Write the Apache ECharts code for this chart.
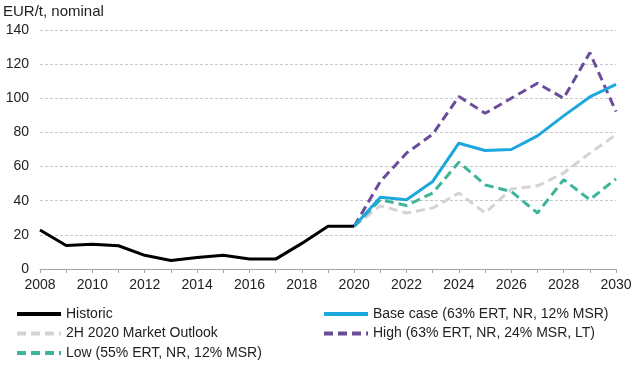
<!DOCTYPE html>
<html><head><meta charset="utf-8">
<script src="https://cdn.jsdelivr.net/npm/echarts@6/dist/echarts.min.js"></script>
<style>html,body{margin:0;padding:0;background:#fff}#c{width:640px;height:369px}</style>
</head><body><div id="c"></div>
<script>
const years = ['2008','2009','2010','2011','2012','2013','2014','2015','2016','2017','2018','2019','2020','2021','2022','2023','2024','2025','2026','2027','2028','2029','2030'];
const historic = [22.8,13.8,14.5,13.6,8,5,6.8,8,5.8,5.8,15,25,25,null,null,null,null,null,null,null,null,null,null];
const baseCase = [null,null,null,null,null,null,null,null,null,null,null,null,25,42,40.6,51.3,73.7,69.4,70,78,89.7,100.8,108.2];
const outlook2H = [null,null,null,null,null,null,null,null,null,null,null,null,25,37,32.8,35.7,44.5,32.8,46.8,48.7,56.2,67.9,78.6];
const high = [null,null,null,null,null,null,null,null,null,null,null,null,25,51.3,67.9,79,101,91.2,100,108.8,100,126.7,92.2];
const low = [null,null,null,null,null,null,null,null,null,null,null,null,25,40.6,37.2,44.5,62.6,49.3,45.4,32.8,52.3,40.6,52.8];
const names = ['Historic','Base case (63% ERT, NR, 12% MSR)','2H 2020 Market Outlook','High (63% ERT, NR, 24% MSR, LT)','Low (55% ERT, NR, 12% MSR)'];
const font = 'Liberation Sans, Arial, sans-serif';
const chart = echarts.init(document.getElementById('c'));
function s(name, data, color, type, z){
  return {name, type:'line', data, symbol:'none', z, connectNulls:false,
    lineStyle:{color, width:3, type}, itemStyle:{color}};
}
const legCommon = {orient:'vertical', top:302, itemWidth:44, itemHeight:14, itemGap:5.5,
  itemStyle:{opacity:0}, lineStyle:{width:4},
  textStyle:{fontFamily:font,fontSize:14,color:'#222'}};
chart.setOption({
  animation:false,
  textStyle:{fontFamily:font},
  grid:{left:40,right:24,top:30,bottom:100},
  title:{text:'EUR/t, nominal', left:-2, top:-1, textStyle:{fontFamily:font,fontSize:15,fontWeight:'normal',color:'#222'}},
  legend:[
    Object.assign({data:[names[0],names[2],names[4]], left:10}, legCommon),
    Object.assign({data:[names[1],names[3]], left:317}, legCommon)
  ],
  xAxis:{type:'category', data:years, boundaryGap:false,
    axisLine:{lineStyle:{color:'#a6a6a6'}},
    axisTick:{interval:0, length:4, lineStyle:{color:'#a6a6a6'}},
    axisLabel:{interval:1, color:'#222', fontSize:14, fontFamily:font, margin:9}},
  yAxis:{type:'value', min:0, max:140, interval:20,
    axisLine:{show:false}, axisTick:{show:false},
    axisLabel:{color:'#222', fontSize:14, fontFamily:font, margin:11},
    splitLine:{lineStyle:{color:'#c8c8c8', type:[3,2]}}},
  series:[
    s(names[0], historic, '#000000', 'solid', 5),
    s(names[1], baseCase, '#1ca8dd', 'solid', 4),
    s(names[2], outlook2H, '#d4d4d4', [9,5], 2),
    s(names[3], high, '#6b4c9a', [9,5], 3),
    s(names[4], low, '#3eb59a', [9,5], 3)
  ]
});
</script></body></html>
